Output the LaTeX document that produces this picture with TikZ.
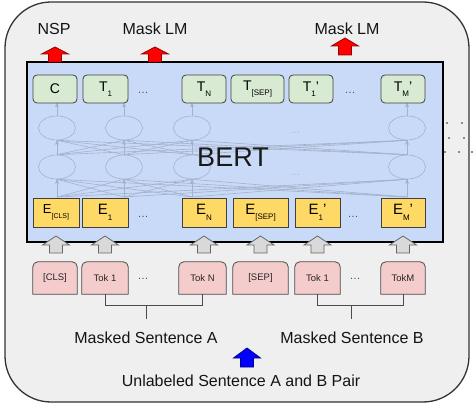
\documentclass[tikz,border=0pt]{standalone}
\usepackage{fontspec}
\setmainfont{Liberation Sans}
\usetikzlibrary{calc}
\usetikzlibrary{arrows}
\usetikzlibrary{shapes.geometric}

\definecolor{bgray}{HTML}{EFEFEF}
\definecolor{bblue}{HTML}{C9DAF8}
\definecolor{tgreen}{HTML}{D9EAD3}
\definecolor{eyellow}{HTML}{FFD966}
\definecolor{tpink}{HTML}{F4CCCC}
\definecolor{netline}{HTML}{A3B2CB}

\newcommand\lowsub[1]{\raisebox{-0.7ex}{\fontsize{8}{8}\selectfont #1}}
\newcommand\blockup[5]{\filldraw[#1] (#2,#3) -- (#2+13.5,#4) -- (#2+6.5,#4) -- (#2+6.5,#5) -- (#2-6.5,#5) -- (#2-6.5,#4) -- (#2-13.5,#4) -- cycle;}

\tikzset{
  tbox/.style={draw=black!75, fill=tgreen, line width=.8pt, rounded corners=4pt, minimum height=28pt, inner sep=0pt, font=\fontsize{14}{14}\selectfont},
  ebox/.style={draw=black!75, fill=eyellow, line width=.8pt, minimum height=29pt, inner sep=0pt, font=\fontsize{15}{15}\selectfont},
  tokbox/.style={minimum height=32pt, inner sep=0pt},
  tokline/.style={draw=black!70, fill=tpink, line width=.8pt},
  netnode/.style={draw=netline, line width=.6pt, ellipse, minimum width=37pt, minimum height=24pt, inner sep=0pt},
  net/.style={netline, line width=.6pt},
  lbl/.style={font=\fontsize{16}{16}\selectfont, text=black!92},
  gap/.style={text=black!70, font=\fontsize{11}{11}\selectfont},
  brline/.style={black!70, line width=.9pt}
}

\begin{document}
\begin{tikzpicture}[x=1pt, y=-1pt]
\useasboundingbox (0,0) rectangle (474,406);
\draw[black!80, fill=bgray, line width=1.3pt, rounded corners=46pt] (5,2) rectangle (469,402);
\draw[black, fill=bblue, line width=2pt] (27,62) rectangle (443,242);

\foreach \i/\x in {1/57, 2/124, 3/192, 4/407} {
 \node[netnode] (up\i) at (\x,128) {};
 \node[netnode] (lo\i) at (\x,167) {};
 \coordinate (in\i) at (\x,197);
 \coordinate (out\i) at (\x,103);
}
\foreach \i in {1,...,4} \foreach \j in {1,...,4} {
 \draw[net] (lo\i.north) -- (up\j.south);
 \draw[net] (in\i) -- (lo\j.south);
}
\foreach \i in {1,...,4} {
 \draw[net, ->, >=stealth'] (in\i) -- (lo\i.south);
 \draw[net, ->, >=stealth'] (lo\i.north) -- (up\i.south);
 \draw[net, ->, >=stealth'] (up\i.north) -- (out\i);
}
\node[text=netline, font=\fontsize{10}{10}\selectfont] (ndots1) at (295,133) {\dots};
\node[text=netline, font=\fontsize{10}{10}\selectfont] (ndots2) at (295,175) {\dots};

\node[font=\fontsize{27}{27}\selectfont, text=black!90] (bert) at (233,157) {BERT};

\foreach \n/\x/\w/\t in {tC/55/44/{C}, tA1/105.5/45/{T\lowsub{1}}, tAN/204/44/{T\lowsub{N}}, tSEP/257.5/53/{T\lowsub{[SEP]}}, tB1/311/44/{T\lowsub{1}'}, tBM/403/44/{T\lowsub{M}'}}
 \node[tbox, minimum width=\w] (\n) at (\x,89) {\t};
\node[gap] (tgap1) at (143,93) {\dots};
\node[gap] (tgap2) at (350,93) {\dots};

\foreach \n/\x/\w/\t in {eCLS/56/46/{\fontsize{13}{13}\selectfont E\lowsub{\fontsize{7}{7}\selectfont[CLS]}}, eA1/105/46/{E\lowsub{1}}, eAN/204/44/{E\lowsub{N}}, eSEP/260.5/55/{E\lowsub{[SEP]}}, eB1/317.5/45/{E\lowsub{1}'}, eBM/403/44/{E\lowsub{M}'}}
 \node[ebox, minimum width=\w] (\n) at (\x,212.5) {\t};
\node[gap] (egap1) at (143,217) {\dots};
\node[gap] (egap2) at (353,217) {\dots};

\foreach \x in {56, 105, 204, 260.5, 317.5, 403} {
 \blockup{fill=black!15, draw=black!60, line width=.8pt}{\x}{236}{245}{253}
}

\foreach \n/\x/\w/\t in {tok1/55/44/{[CLS]}, tok2/105/46/{Tok 1}, tok3/202.5/47/{Tok N}, tok4/260.5/55/{[SEP]}, tok5/317.5/45/{Tok 1}, tok6/403/44/{TokM}} {
 \node[tokbox, minimum width=\w] (\n) at (\x,278) {};
 \filldraw[tokline] (\n.south west) [rounded corners=5pt] -- (\n.north west) -- (\n.north east) [sharp corners] -- (\n.south east) -- cycle;
 \node[font=\fontsize{9.5}{9.5}\selectfont, text=black!85] (\n txt) at (\n) {\t};
}
\node[gap] (kgap1) at (143,279) {\dots};
\node[gap] (kgap2) at (355,279) {\dots};

\coordinate (brA) at (146,305);
\coordinate (tickA) at (146,319);
\coordinate (brB) at (351,305);
\coordinate (tickB) at (351,319);
\draw[brline] (tok2.south) -- (tok2.south |- brA) -- (tok3.south |- brA) -- (tok3.south);
\draw[brline] (brA) -- (tickA);
\draw[brline] (tok5.south) -- (tok5.south |- brB) -- (tok6.south |- brB) -- (tok6.south);
\draw[brline] (brB) -- (tickB);

\node[lbl] (sentA) at (146,338) {Masked Sentence A};
\node[lbl] (sentB) at (352,338) {Masked Sentence B};
\blockup{fill=blue, draw=blue!60!black, line width=.8pt}{247}{348}{358}{367}
\node[lbl] (pair) at (241,381) {Unlabeled Sentence A and B Pair};

\blockup{fill=red, draw=red!60!black, line width=.8pt}{55}{47}{54}{62}
\blockup{fill=red, draw=red!60!black, line width=.8pt}{155}{47}{54}{62}
\blockup{fill=red, draw=red!60!black, line width=.8pt}{345}{38}{46}{55}
\node[lbl] (nsp) at (54,29) {NSP};
\node[lbl] (mlm1) at (155,29) {Mask LM};
\node[lbl] (mlm2) at (347,29) {Mask LM};

\foreach \x/\y in {447/123, 462/123, 449/138, 464/138, 445/152, 459/152, 472/152}
 \fill[black!45] (\x-1.2,\y-1.2) rectangle (\x+1.2,\y+1.2);
\end{tikzpicture}
\end{document}
